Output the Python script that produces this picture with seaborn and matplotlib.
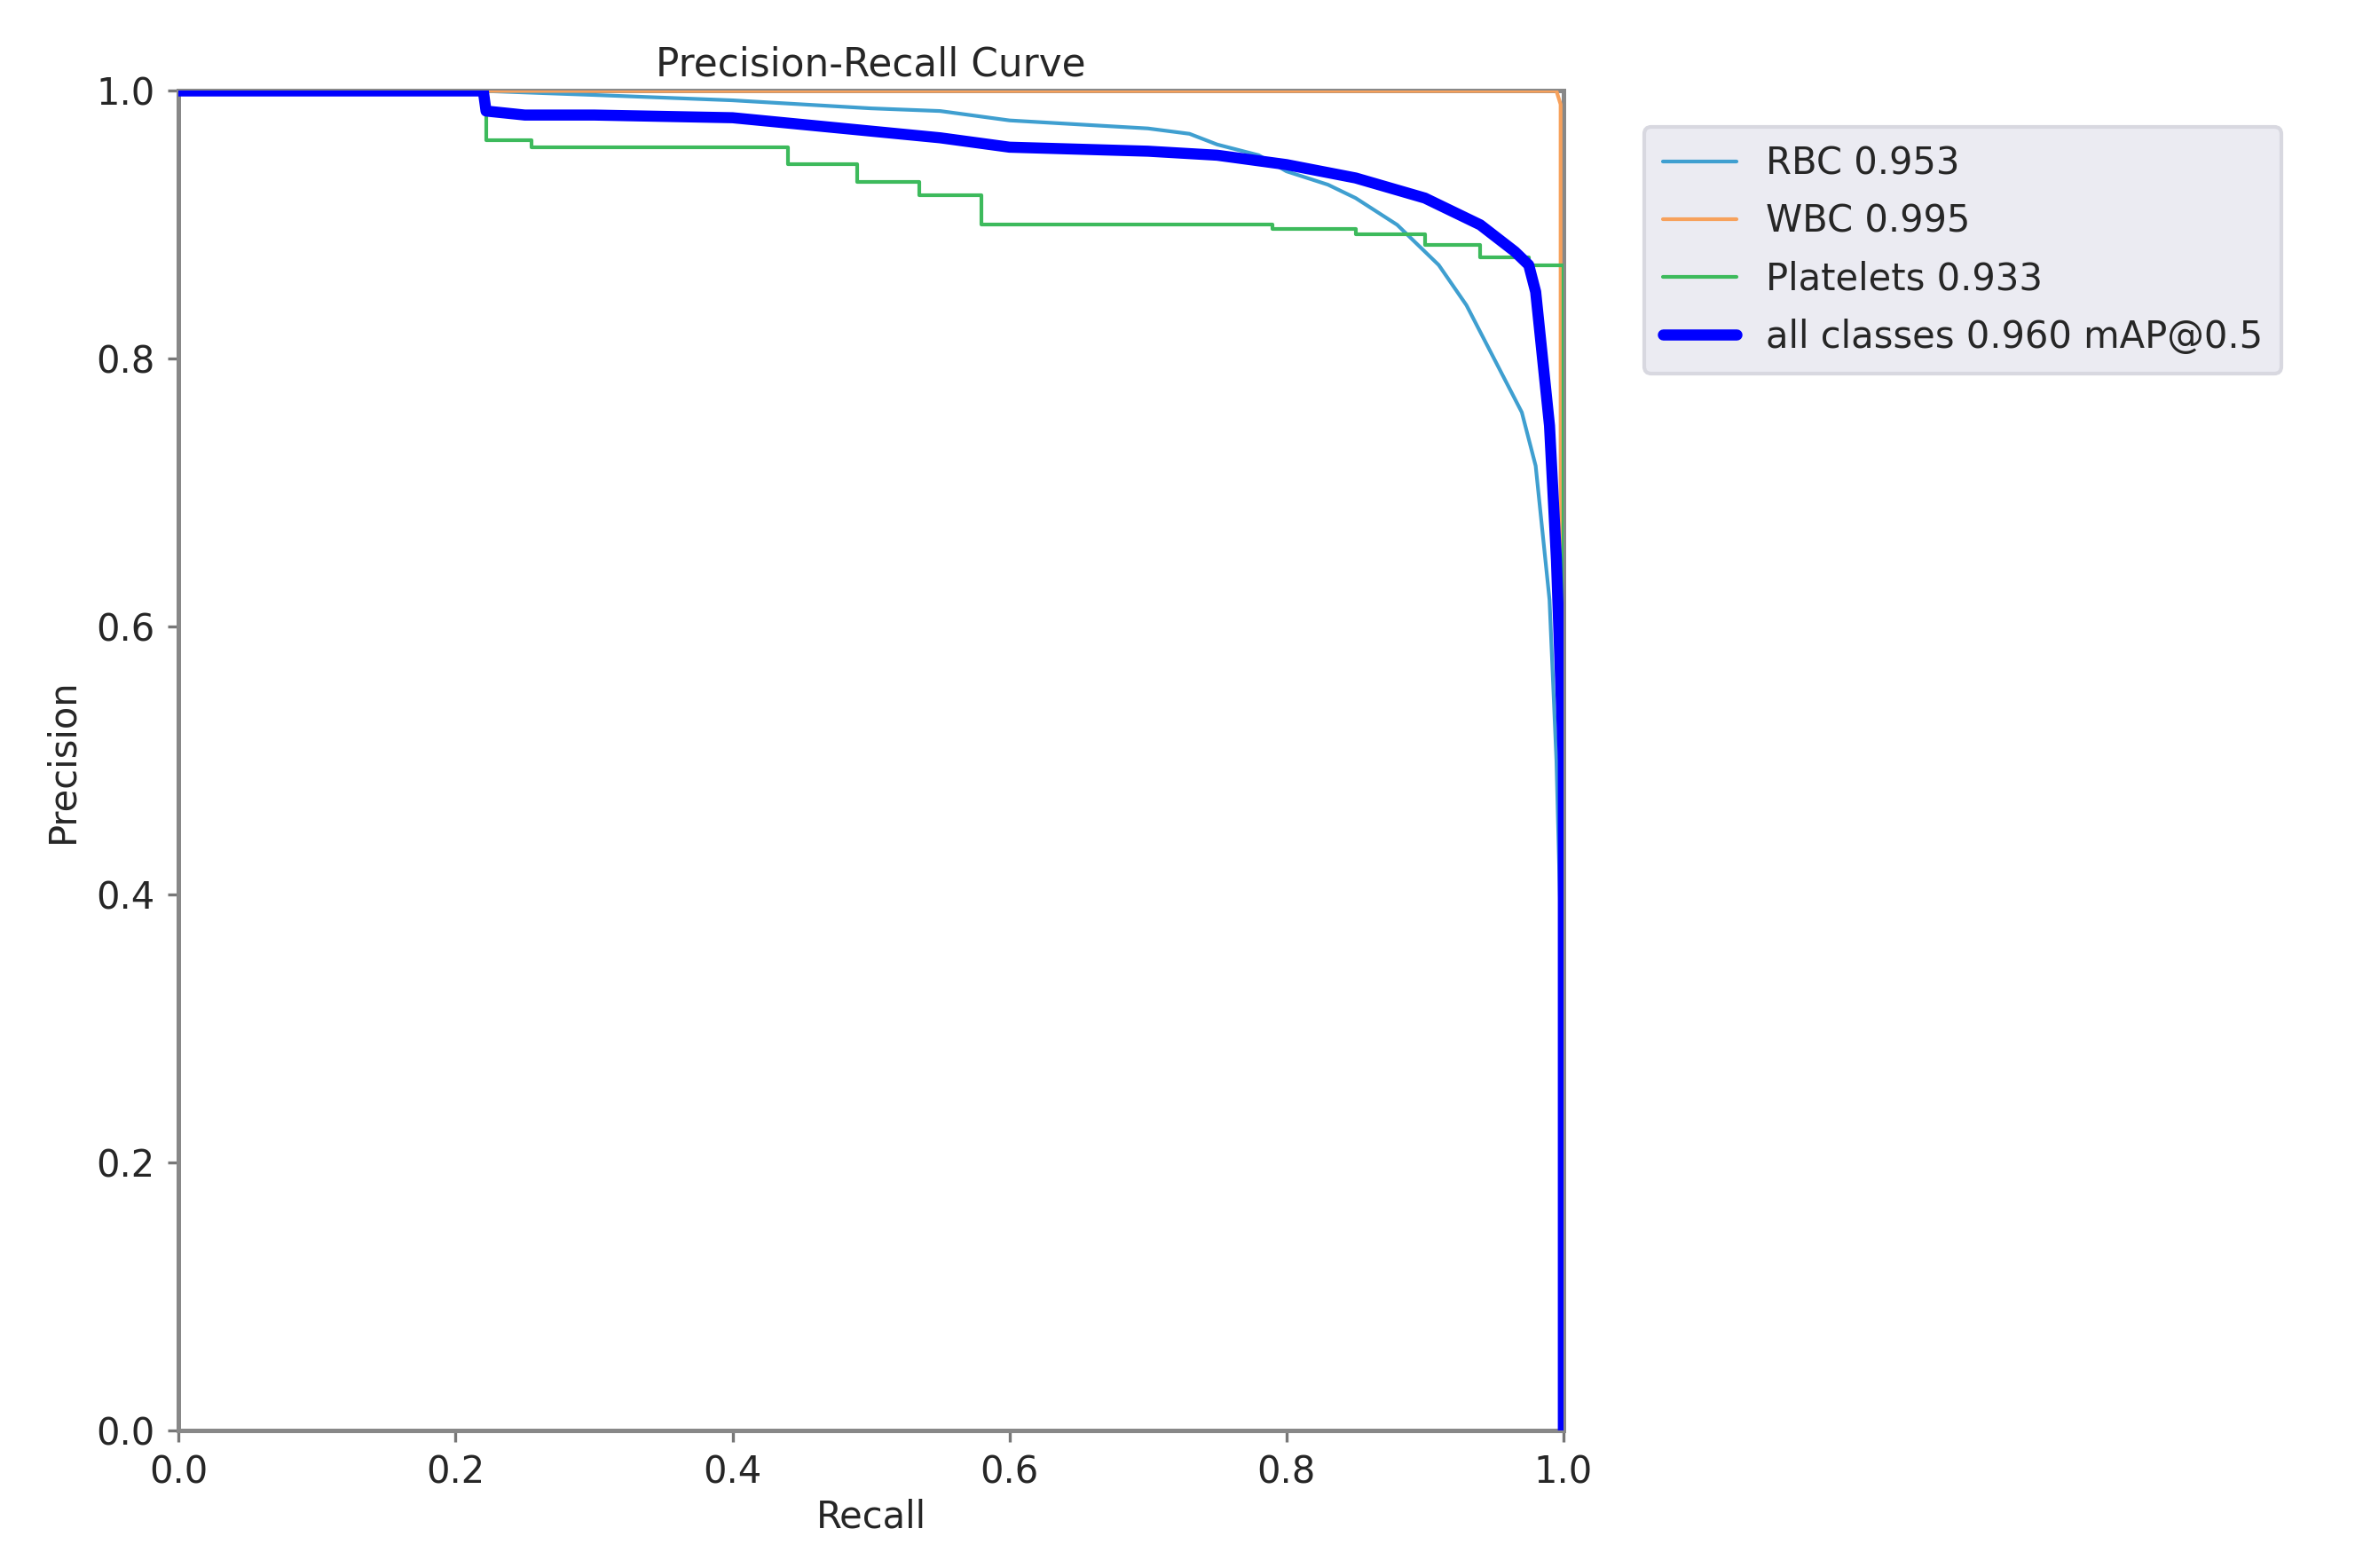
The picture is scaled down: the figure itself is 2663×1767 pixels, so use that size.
import matplotlib
matplotlib.use("Agg")
import matplotlib.pyplot as plt
import seaborn as sns

# values
rbc_recall = [0.0, 0.22, 0.30, 0.40, 0.45, 0.50, 0.55, 0.60, 0.65, 0.70, 0.73, 0.75, 0.78,
              0.80, 0.83, 0.85, 0.88, 0.91, 0.93, 0.95, 0.97, 0.98, 0.99, 0.995, 1.0, 1.0]
rbc_precision = [1.0, 1.0, 0.997, 0.993, 0.99, 0.987, 0.985, 0.978, 0.975, 0.972, 0.968,
                 0.960, 0.952, 0.940, 0.930, 0.920, 0.900, 0.870, 0.840, 0.800, 0.760,
                 0.720, 0.620, 0.500, 0.300, 0.0]

wbc_recall = [0.0, 0.995, 0.998, 0.998, 0.998]
wbc_precision = [1.0, 1.0, 0.99, 0.75, 0.0]

plt_recall = [0.0, 0.222, 0.255, 0.44, 0.49, 0.535, 0.58, 0.79, 0.85, 0.90, 0.94, 0.975,
              0.99, 1.0, 1.0]
plt_precision = [1.0, 0.963, 0.958, 0.945, 0.932, 0.922, 0.900, 0.897, 0.893, 0.885,
                 0.876, 0.870, 0.870, 0.76, 0.0]

all_recall = [0.0, 0.22, 0.222, 0.25, 0.30, 0.40, 0.45, 0.50, 0.55, 0.60, 0.70, 0.75, 0.80,
              0.85, 0.90, 0.94, 0.965, 0.975, 0.98, 0.985, 0.99, 0.995, 1.0, 1.0]
all_precision = [1.0, 1.0, 0.985, 0.982, 0.982, 0.980, 0.975, 0.970, 0.965, 0.958, 0.955,
                 0.952, 0.945, 0.935, 0.920, 0.900, 0.880, 0.870, 0.850, 0.800, 0.750,
                 0.650, 0.500, 0.0]

labels = ["RBC 0.953", "WBC 0.995", "Platelets 0.933", "all classes 0.960 mAP@0.5"]
colors = ["#3f9fd0", "#f7a15c", "#3dba5c", "#0000ff"]

sns.set_style("white")
plt.rcParams["font.family"] = ["DejaVu Sans"]

fig = plt.figure(figsize=(2663 / 300, 1767 / 300), dpi=300)
ax = fig.add_axes([0.0756, 0.088, 0.586, 0.854])

sns.lineplot(x=rbc_recall, y=rbc_precision, ax=ax, sort=False, estimator=None,
             color=colors[0], linewidth=1.0, label=labels[0])
sns.lineplot(x=wbc_recall, y=wbc_precision, ax=ax, sort=False, estimator=None,
             color=colors[1], linewidth=1.0, label=labels[1])
sns.lineplot(x=plt_recall, y=plt_precision, ax=ax, sort=False, estimator=None,
             color=colors[2], linewidth=1.0, label=labels[2], drawstyle="steps-post")
sns.lineplot(x=all_recall, y=all_precision, ax=ax, sort=False, estimator=None,
             color=colors[3], linewidth=3.0, label=labels[3])

ax.set_xlim(0, 1)
ax.set_ylim(0, 1)
ax.set_xlabel("Recall", fontsize=10, labelpad=2)
ax.set_ylabel("Precision", fontsize=10)
ax.set_title("Precision-Recall Curve", fontsize=10.5, pad=4)
ax.tick_params(labelsize=10, length=3, left=True, bottom=True, color="#777777")
for s in ax.spines.values():
    s.set_color("#888888")
    s.set_linewidth(1.2)
    s.set_zorder(1)

leg = ax.legend(bbox_to_anchor=(1.045, 0.987), loc="upper left", fontsize=10,
                frameon=True, facecolor="#ebebf2", edgecolor="#d8d8e0", framealpha=1,
                borderpad=0.5, labelspacing=0.55)

fig.savefig("out.png", dpi=300)
